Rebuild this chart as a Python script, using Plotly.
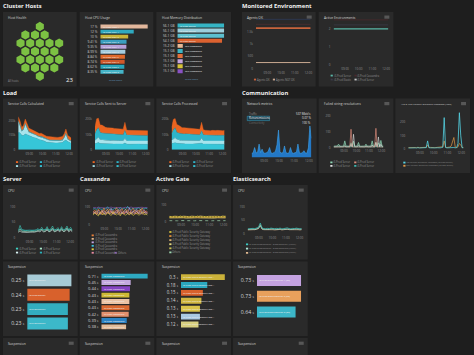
import plotly.graph_objects as go
import pandas as pd

W, H = 474, 355
BG = "#1e1e1e"
PANEL = "#2a2a2a"
TITLE_C = "#d4d4d4"
DIM = "#8f8f8f"
FONT = "Open Sans, Roboto, DejaVu Sans, sans-serif"

# ======================= DATA =======================
# Host health honeycomb (hosts per row, starting half-column of each row)
host_rows = [1, 3, 5, 4, 5, 4, 1]
host_row_start = [0, -3, -4, -3, -4, -3, 0]

cpu_values = [17, 12, 10, 9.41, 9.35, 8.99, 8.84, 8.74, 8.62, 8.35]
cpu_hosts = ["i3-Prod Cass 4", "i3-Prod Prox 1", "i3-Prod Prox 2", "i3-Prod Prox 3", "i3-Prod Prox 4",
             "i3-Prod Prox 5", "i3-Prod Prox 6", "i3-Prod Prox 7", "i3-Prod Cass 6", "i3-Prod Cass 3"]
cpu_colors = ["#e2b79c", "#2fa9bf", "#c9b437", "#3a9fc0", "#b7a2db", "#a5cde0", "#e06a2c", "#d2582a", "#2aa5ba", "#45b5c8"]

mem_values = [56.1, 56.1, 56.1, 54.1, 15.2, 15.1, 15.1, 15.1, 15.1, 15.1]
mem_hosts = ["i3-Prod Server", "i3-Prod Server", "i3-Prod Server", "i3-Prod Server", "i3xF Cassandra",
             "i3xF Cassandra", "i3xF Cassandra", "i3xF Cassandra", "i3xF Cassandra", "i3xF Cassandra"]
mem_colors = ["#35b5c5", "#9ccfdc", "#5cc0cf", "#dc6230", "#e8b894", "#3cb4c4", "#e0703c", "#c7a5e0", "#d8c23a", "#8a52c4"]

T0, T1 = "2024-01-01 08:10", "2024-01-01 12:10"
t21 = pd.date_range(T0, periods=21, freq="12min")
t31 = pd.date_range(T0, periods=31, freq="8min")
t41 = pd.date_range(T0, periods=41, freq="6min")

agents_total = [1992, 1992, 1993, 1992, 1992, 1991, 1992, 1992, 1993, 1992, 1992, 1992, 1991, 1992, 1992, 1993, 1992, 1992, 1992, 1991, 1992]
agents_licensed = [1790, 1790, 1789, 1790, 1791, 1790, 1790, 1789, 1790, 1790, 1791, 1790, 1790, 1790, 1789, 1790, 1790, 1791, 1790, 1790, 1790]
agents_ok = [1635, 1634, 1635, 1636, 1635, 1634, 1635, 1635, 1636, 1635, 1634, 1635, 1635, 1636, 1635, 1634, 1635, 1635, 1636, 1635, 1635]
agents_not_ok = [245, 246, 245, 244, 245, 246, 245, 245, 244, 245, 246, 245, 245, 244, 245, 246, 245, 245, 244, 245, 245]
agents_names = ["Agents OK", "Agents NOT OK"]
agents_colors = ["#c8643c", "#c8a890"]

env_total = [2.5, 2.5, 2.5, 2.5, 2.5, 2.5, 2.5, 2.5, 2.5, 2.5, 2.5, 2.5, 2.5, 2.5, 2.5, 2.5, 2.5, 2.5, 2.5, 2.5, 2.5]
env_other = [2.22, 2.22, 2.22, 2.22, 2.22, 2.22, 2.22, 2.22, 2.22, 2.22, 2.22, 2.22, 2.22, 2.22, 2.22, 2.22, 2.22, 2.22, 2.22, 2.22, 2.22]
env_active = [2, 2, 2, 2, 2, 2, 2, 2, 2, 2, 2, 2, 2, 2, 2, 2, 2, 2, 2, 2, 2]
env_names = ["i3-Prod Server", "i3-Prod Cassandra", "i3-Prod Elastic", "i3-Prod Server"]
env_colors = ["#5ab8a8", "#4a2a2c", "#3a3a48", "#c8c8c8"]

# Load – stacked service calls (thousands), bottom -> top
load1_a = [123, 116, 100, 99, 110, 105, 96, 92, 90, 84, 82, 73, 70, 68, 65, 60, 53, 53, 49, 48, 49, 48, 47, 47, 48, 50, 61, 68, 57, 49, 45]
load1_b = [70, 50, 26, 40, 66, 40, 25, 24, 22, 22, 21, 20, 18, 20, 18, 16, 15, 15, 15, 14, 14, 15, 14, 14, 15, 15, 20, 40, 16, 14, 13]
load1_c = [6, 6, 5, 5, 6, 5, 5, 5, 4, 5, 4, 5, 4, 5, 4, 4, 5, 4, 4, 5, 4, 4, 5, 4, 4, 5, 5, 6, 5, 4, 4]
load1_d = [30, 28, 24, 26, 30, 25, 24, 23, 22, 22, 21, 22, 20, 22, 21, 20, 21, 20, 22, 21, 20, 21, 20, 22, 21, 22, 24, 30, 22, 21, 20]

load2_a = [40, 44, 48, 42, 41, 40, 40, 39, 40, 39, 39, 38, 39, 38, 38, 39, 38, 45, 38, 37, 38, 37, 38, 37, 37, 38, 37, 37, 38, 37, 37]
load2_b = [22, 30, 34, 25, 24, 23, 22, 22, 22, 21, 22, 21, 21, 22, 21, 21, 21, 30, 21, 21, 20, 21, 21, 20, 21, 21, 20, 21, 21, 20, 21]
load2_c = [42, 60, 64, 48, 46, 47, 44, 44, 43, 43, 42, 42, 41, 41, 41, 40, 40, 52, 39, 39, 39, 38, 39, 38, 38, 38, 38, 37, 38, 38, 37]
load2_d = [44, 70, 62, 48, 52, 45, 42, 41, 41, 40, 40, 40, 39, 38, 38, 37, 37, 54, 32, 31, 31, 31, 31, 30, 31, 31, 31, 31, 31, 31, 30]

load3_a = [41, 45, 47, 43, 41, 40, 39, 40, 39, 40, 39, 38, 38, 39, 38, 38, 39, 44, 38, 38, 37, 38, 37, 38, 37, 37, 38, 37, 37, 38, 37]
load3_b = [21, 29, 33, 26, 23, 22, 22, 21, 22, 22, 21, 21, 22, 21, 21, 21, 20, 31, 21, 20, 21, 21, 20, 21, 20, 21, 21, 20, 21, 20, 21]
load3_c = [43, 58, 66, 47, 47, 45, 44, 43, 44, 42, 42, 41, 42, 40, 41, 40, 40, 50, 40, 39, 38, 39, 38, 38, 39, 38, 37, 38, 38, 37, 38]
load3_d = [42, 68, 60, 50, 50, 46, 41, 42, 40, 41, 39, 40, 38, 39, 37, 38, 36, 56, 33, 32, 31, 32, 31, 31, 30, 31, 32, 31, 30, 31, 31]

load_names = ["i3-Prod Server", "i3-Prod Server", "i3-Prod Server", "i3-Prod Server"]
load_colors = ["#36c6d8", "#a8e4ec", "#2fb4c9", "#ea6420"]

net_labels = ["Traffic", "Retransmissions", "Connectivity"]
net_values = ["537 Mbit/s", "0.07 %", "100 %"]
net_series = [13, 14, 31, 14, 16, 42, 15, 26, 14, 13, 15, 18, 31, 14, 13, 15, 20, 40, 86, 16, 14,
              15, 36, 15, 13, 14, 31, 15, 13, 14, 16, 42, 14, 13, 15, 21, 14, 13, 30, 99, 60]

fail_a = [8, 9, 8, 10, 21, 9, 8, 10, 9, 42, 8, 9, 10, 8, 30, 9, 40, 8, 9, 10, 32, 9, 8, 10, 9, 8, 21, 9, 10, 8, 9, 42, 9, 8, 35, 10, 30, 9, 45, 8, 9]
fail_b = [1, 2, 1, 1, 2, 1, 2, 1, 1, 3, 1, 2, 1, 1, 116, 2, 1, 1, 2, 1, 3, 1, 1, 2, 1, 1, 2, 1, 1, 2, 1, 3, 1, 2, 122, 1, 2, 1, 3, 1, 1]
fail_c = [3, 4, 3, 5, 6, 3, 4, 3, 4, 10, 3, 4, 3, 4, 20, 3, 84, 4, 3, 4, 12, 3, 4, 3, 4, 3, 8, 4, 3, 4, 3, 15, 4, 3, 30, 4, 67, 3, 20, 4, 3]
fail_d = [2, 3, 2, 2, 4, 2, 3, 2, 2, 5, 2, 3, 2, 2, 6, 3, 4, 2, 2, 3, 4, 2, 3, 2, 2, 3, 4, 2, 2, 3, 2, 4, 3, 2, 7, 2, 5, 3, 4, 2, 2]
fail_names = ["i3-Prod Server", "i3-Prod Server", "i3-Prod Server", "i3-Prod Server"]
fail_colors = ["#8fd6b4", "#d98a7a", "#e6e6e6", "#3fb8b0"]

lat_avg = [6, 7, 6, 8, 6, 7, 6, 9, 6, 7, 6, 8, 7, 9, 60, 8, 7, 6, 8, 6, 7, 8, 6, 7, 9, 12, 236, 10, 7, 8, 6, 7, 9, 10, 7, 9, 40, 273, 98, 8, 7]
lat_max = [9, 10, 9, 11, 9, 10, 9, 12, 9, 10, 9, 11, 10, 12, 30, 10, 11, 9, 10, 9, 10, 11, 9, 10, 12, 16, 60, 13, 10, 11, 14, 20, 50, 86, 12, 10, 15, 40, 30, 10, 10]
lat_names = ["Avg Latency Outpatch Messages (i3-Prod Server)", "Max Latency Outpatch Messages (i3-Prod Server)"]
lat_colors = ["#56d4e4", "#e09a48"]

srv_a = [22, 40, 26, 24, 23, 24, 22, 23, 24, 23, 25, 30, 24, 34, 25, 26, 36, 24, 28, 38, 25, 27, 33, 24, 36, 26, 28, 38, 25, 34, 24]
srv_b = [19, 28, 21, 20, 19, 20, 19, 20, 19, 20, 21, 24, 22, 28, 21, 22, 30, 20, 24, 31, 21, 23, 28, 22, 30, 21, 23, 32, 22, 28, 21]
srv_c = [17, 22, 18, 17, 18, 17, 18, 17, 18, 18, 19, 21, 19, 24, 19, 20, 25, 19, 21, 26, 19, 21, 24, 19, 26, 20, 21, 27, 19, 24, 19]
srv_d = [24, 30, 25, 24, 25, 24, 25, 24, 25, 24, 25, 26, 25, 27, 25, 26, 28, 25, 26, 28, 25, 26, 27, 25, 28, 25, 26, 29, 25, 27, 25]
srv_names = ["i3-Prod Server", "i3-Prod Server", "i3-Prod Server", "i3-Prod Server"]
srv_colors = ["#3fd0c0", "#a8e8c8", "#d8f0f0", "#2ab0b8"]

cas_1 = [70, 85, 62, 90, 75, 60, 95, 72, 66, 88, 70, 64, 80, 98, 68, 74, 92, 63, 71, 86, 66, 78, 94, 70, 62, 84, 73, 96, 67, 80, 72]
cas_2 = [62, 70, 80, 58, 66, 84, 60, 74, 90, 62, 68, 82, 58, 72, 86, 60, 70, 78, 88, 62, 74, 60, 70, 85, 76, 62, 90, 66, 74, 60, 68]
cas_3 = [78, 66, 72, 84, 60, 70, 82, 64, 76, 70, 92, 60, 74, 66, 80, 88, 62, 76, 68, 72, 96, 64, 80, 66, 88, 70, 64, 78, 86, 66, 74]
cas_4 = [88, 92, 86, 95, 90, 87, 93, 89, 102, 88, 91, 86, 94, 90, 88, 96, 89, 92, 87, 104, 90, 88, 93, 89, 91, 95, 88, 92, 90, 94, 89]
cas_5 = [55, 68, 60, 52, 72, 58, 64, 56, 70, 60, 54, 74, 62, 57, 66, 52, 68, 60, 56, 64, 58, 70, 54, 62, 66, 56, 60, 72, 58, 62, 56]
cas_6 = [66, 74, 58, 70, 62, 80, 68, 60, 72, 64, 78, 62, 70, 84, 60, 68, 74, 62, 80, 66, 60, 74, 68, 62, 78, 64, 72, 60, 70, 76, 64]
cas_7 = [96, 98, 95, 100, 97, 96, 99, 97, 95, 98, 100, 96, 97, 99, 96, 98, 95, 97, 99, 96, 98, 100, 96, 97, 95, 98, 96, 99, 97, 96, 98]
cas_names = ["i3-Prod Cassandra", "i3-Prod Cassandra", "i3-Prod Cassandra", "i3-Prod Cassandra",
             "i3-Prod Cassandra", "i3-Prod Cassandra", "Others"]
cas_colors = ["#e8803a", "#e6b88a", "#c4a4e4", "#3ec4dc", "#e0cc40", "#e88aa0", "#8a5cc4"]

ag_1 = [28, 30, 27, 29, 31, 28, 27, 30, 29, 28, 31, 27, 29, 30, 28, 27, 30, 29, 28, 31, 28]
ag_2 = [24, 26, 25, 23, 27, 24, 26, 25, 23, 26, 24, 25, 27, 24, 23, 26, 25, 24, 26, 25, 24]
ag_3 = [31, 29, 32, 30, 28, 32, 30, 29, 32, 30, 29, 33, 30, 28, 31, 32, 29, 31, 30, 29, 32]
ag_4 = [21, 22, 20, 23, 21, 22, 20, 21, 23, 20, 22, 21, 20, 23, 22, 21, 20, 22, 21, 23, 21]
ag_5 = [26, 27, 28, 26, 25, 27, 28, 26, 27, 25, 27, 28, 26, 27, 25, 28, 27, 26, 28, 27, 26]
ag_6 = [4, 3, 4, 3, 5, 4, 3, 4, 4, 3, 5, 4, 3, 4, 4, 3, 4, 5, 3, 4, 4]
ag_names = ["i3-Prod Public Security Gateway", "i3-Prod Public Security Gateway", "i3-Prod Public Security Gateway",
            "i3-Prod Public Security Gateway", "i3-Prod Public Security Gateway", "Others"]
ag_colors = ["#d6c23c", "#e0903a", "#d8b070", "#e8dc80", "#c8c050", "#a0d8b0"]

es_1 = [18, 19, 18, 20, 19, 21, 24, 40, 22, 19, 18, 20, 19, 21, 19, 18, 20, 19, 21, 18, 19, 20, 22, 19, 18, 20, 19, 21, 19, 18, 19]
es_2 = [16, 17, 16, 17, 16, 18, 20, 30, 18, 17, 16, 17, 16, 18, 17, 16, 17, 16, 18, 16, 17, 17, 19, 17, 16, 17, 16, 18, 17, 16, 17]
es_3 = [14, 15, 14, 15, 15, 16, 19, 34, 17, 15, 14, 15, 15, 16, 15, 14, 15, 15, 16, 14, 15, 15, 17, 15, 14, 15, 15, 16, 15, 14, 15]
es_names = ["i3-Prod Elasticsearch - Elasticsearch1 (Linux)", "i3-Prod Elasticsearch - Elasticsearch2 (Linux)",
            "i3-Prod Elasticsearch - Elasticsearch3 (Linux)"]
es_colors = ["#3cc8c0", "#b0e8d8", "#e0b890"]

susp_srv_values = [0.25, 0.24, 0.23, 0.23]
susp_srv_names = ["i3-Prod Server", "i3-Prod Server", "i3-Prod Server", "i3-Prod Server"]
susp_srv_colors = ["#a7cbd6", "#d8612c", "#33aebf", "#3cb8c9"]

susp_cas_values = [0.71, 0.45, 0.44, 0.43, 0.43, 0.43, 0.42, 0.39, 0.38]
susp_cas_names = ["i3-Prod Cassandra"] * 9
susp_cas_colors = ["#2eaac2", "#c3a9df", "#8544c4", "#cdb935", "#ebc3a4", "#da6a32", "#e2906e", "#2b82c4", "#e2bc9a"]

susp_ag_values = [0.3, 0.18, 0.15, 0.14, 0.13, 0.13, 0.12]
susp_ag_names = ["i3-Prod Public Security Gat..."] * 7
susp_ag_colors = ["#cbb23a", "#2aa8c0", "#d8612c", "#cfb640", "#d9c44a", "#a9c9e2", "#d8d080"]

susp_es_values = [0.73, 0.73, 0.64]
susp_es_names = ["i3-Prod Elasticsearch 1 (ES)", "i3-Prod Elasticsearch 2 (ES)", "i3-Prod Elasticsearch 3 (ES)"]
susp_es_colors = ["#c4a2e0", "#e8a05c", "#3cb6c8"]

# ======================= FIGURE =======================
fig = go.Figure()
shapes, annos, axes = [], [], {}
counter = [0]
TF = dict(size=3, color=DIM, family=FONT)


def add_axes(x0, x1, y0, y1, xa, ya):
    counter[0] += 1
    s = "" if counter[0] == 1 else str(counter[0])
    axes["xaxis" + s] = dict(domain=[x0 / W, x1 / W], anchor="y" + s, fixedrange=True, **xa)
    axes["yaxis" + s] = dict(domain=[1 - y1 / H, 1 - y0 / H], anchor="x" + s, fixedrange=True, **ya)
    return "x" + s, "y" + s


def text(x, y, s, size=3.3, color=TITLE_C, anchor="left", yanchor="middle"):
    annos.append(dict(xref="paper", yref="paper", x=x / W, y=1 - y / H, text=s, showarrow=False,
                      xanchor=anchor, yanchor=yanchor, borderpad=0, borderwidth=0,
                      font=dict(size=size, color=color, family=FONT)))


def rect(x0, y0, x1, y1, fill, line=None, lw=0, layer="below"):
    shapes.append(dict(type="rect", xref="paper", yref="paper", x0=x0 / W, x1=x1 / W,
                       y0=1 - y1 / H, y1=1 - y0 / H, fillcolor=fill,
                       line=dict(width=lw, color=line or fill), layer=layer))


def panel(x0, y0, x1, y1, title, button=False, tsize=3.3):
    rect(x0, y0, x1, y1, PANEL)
    text(x0 + 5.5, y0 + 5.5, title, size=tsize)
    if button:
        rect(x1 - 9, y0 + 3.6, x1 - 4, y0 + 6.8, "#575757")


def legend(names, colors, x0, y0, col_w, row_h, ncols, rows=None, cols=None, size=2.6):
    for i, (n, c) in enumerate(zip(names, colors)):
        r, k = divmod(i, ncols)
        if rows is not None:
            r, k = rows[i], cols[i]
        x = x0 + k * col_w
        y = y0 + r * row_h
        rect(x, y - 0.9, x + 2.2, y + 0.9, c, layer="above")
        text(x + 3.0, y, n, size=size, color=DIM)


def time_x():
    return dict(type="date", range=[T0, T1], tickformat="%H:%M", tick0="2024-01-01 09:00", dtick=3600000,
                tickfont=TF, showgrid=False, zeroline=False, showline=False, ticks="", ticklabelstandoff=1)


def val_y(top, vals, texts):
    return dict(range=[0, top], tickvals=vals, ticktext=texts, tickfont=TF, showgrid=False,
                zeroline=False, showline=False, ticks="", ticklabelstandoff=2)


def line(ax, x, y, color, width=0.7, **kw):
    fig.add_trace(go.Scatter(x=x, y=y, mode=kw.pop("mode", "lines"), line=dict(color=color, width=width),
                             xaxis=ax[0], yaxis=ax[1], hoverinfo="skip", **kw))


def hbar(ax, values, colors, width):
    fig.add_trace(go.Bar(x=values, y=list(range(len(values))), orientation="h",
                         marker=dict(color=colors, line=dict(width=0)), width=width,
                         xaxis=ax[0], yaxis=ax[1], hoverinfo="skip"))


def bar_texts(ax, values, names, x_start, size, color="#f2f2f2", outside_below=None):
    for i, (v, n) in enumerate(zip(values, names)):
        xx = v if (outside_below is not None and v < outside_below) else x_start
        annos.append(dict(xref=ax[0], yref=ax[1], x=xx, y=i, text=n, showarrow=False, xanchor="left",
                          yanchor="middle", xshift=1.3, borderpad=0,
                          font=dict(size=size, color=color, family=FONT)))


def cat_y(labels, size, color="#cfcfcf"):
    n = len(labels)
    return dict(range=[n - 0.5, -0.5], tickvals=list(range(n)), ticktext=labels,
                tickfont=dict(size=size, color=color, family=FONT), ticks="", showgrid=False,
                zeroline=False, showline=False, ticklabelstandoff=2)


# ---- section headers
for s, x, y in [("Cluster Hosts", 3.3, 6.3), ("Monitored Environment", 243, 6.3), ("Load", 3.3, 93.5),
                ("Communication", 243, 93.5), ("Server", 3.3, 180), ("Cassandra", 80.5, 180),
                ("Active Gate", 157, 180), ("Elasticsearch", 234, 180)]:
    text(x, y, "<b>" + s + "</b>", size=5.8, color="#f2f2f2")

# ---- Host health
panel(3, 12, 77, 87, "Host Health")
ax = add_axes(3, 77, 12, 87, dict(visible=False, range=[-7.63, 7.63]), dict(visible=False, range=[7.24, -1.76]))
hx, hy = [], []
for r, (cnt, st) in enumerate(zip(host_rows, host_row_start)):
    for i in range(cnt):
        hx.append(st + 2 * i)
        hy.append(r)
fig.add_trace(go.Scatter(x=hx, y=hy, mode="markers", xaxis=ax[0], yaxis=ax[1], hoverinfo="skip",
                         marker=dict(symbol="hexagon", size=9.3, color="#7cc143", line=dict(width=0))))
text(8.5, 81.5, "All hosts", size=2.7, color=DIM)
text(73, 80.5, str(sum(host_rows)), size=6, color="#f2f2f2", anchor="right")

# ---- Host CPU usage
panel(80, 12, 154, 87, "Host CPU Usage")
ax = add_axes(100.7, 150, 24.2, 74.8, dict(visible=False, range=[0, 17.6]),
              cat_y([f"{v} %" for v in cpu_values], 3.2))
hbar(ax, cpu_values, cpu_colors, 0.78)
bar_texts(ax, cpu_values, cpu_hosts, 0, 2.4)
text(116, 80, "Show more", size=2.5, color="#5f8fb5", anchor="center")

# ---- Host memory
panel(157, 12, 232, 87, "Host Memory Distribution")
ax = add_axes(178.3, 227, 23.1, 74.3, dict(visible=False, range=[10, 58.07]),
              cat_y([f"{v} GB" for v in mem_values], 3.2))
hbar(ax, mem_values, mem_colors, 0.78)
bar_texts(ax, mem_values, mem_hosts, 10, 2.4, outside_below=30)
text(193, 79.5, "Show more", size=2.5, color="#5f8fb5", anchor="center")

# ---- Agents OK
panel(243, 12, 317, 87, "Agents OK", True)
ax = add_axes(257, 312, 18, 69, time_x(), val_y(2050, [0, 500, 1000, 1500], ["0", "500", "1k", "1.5k"]))
line(ax, t21, agents_total, "#2c3a58", 0.8)
line(ax, t21, agents_licensed, "#4a2e30", 0.8)
line(ax, t21, agents_ok, agents_colors[0], 1.6)
line(ax, t21, agents_not_ok, agents_colors[1], 1.0)
legend(agents_names, agents_colors, 255, 80, 19, 4, 2)

# ---- Active environments
panel(320, 12, 395, 87, "Active Environments", True)
ax = add_axes(335, 390, 18.2, 65, time_x(), val_y(2.6, [0, 1, 2], ["0", "1", "2"]))
line(ax, t21, env_total, env_colors[1], 0.8)
line(ax, t21, env_other, env_colors[2], 0.8)
line(ax, t21, env_active, env_colors[0], 1.4)
legend(env_names, env_colors, 332, 76, 24, 4, 2)

# ---- Load
load_sets = [("Service Calls Calculated", 3, [load1_a, load1_b, load1_c, load1_d], 240, 115.7),
             ("Service Calls Sent to Server", 80, [load2_a, load2_b, load2_c, load2_d], 230, 115.5),
             ("Service Calls Processed", 157, [load3_a, load3_b, load3_c, load3_d], 230, 115.5)]
for k, (title, px0, series, top, ytop) in enumerate(load_sets):
    panel(px0, 99, px0 + 75, 174, title, True)
    ax = add_axes(px0 + 15.3, px0 + 68.5, ytop, 150.7, time_x(), val_y(top, [0, 100, 200], ["0", "100k", "200k"]))
    for s, c in zip(series, load_colors):
        fig.add_trace(go.Scatter(x=t31, y=s, mode="lines", stackgroup=f"load{k}", fillcolor=c,
                                 line=dict(color=c, width=0.4), xaxis=ax[0], yaxis=ax[1], hoverinfo="skip"))
    legend(load_names[::-1], load_colors[::-1], px0 + 13, 163, 24, 4, 2)

# ---- Network metrics
panel(243, 99, 318, 174, "Network metrics")
rect(248.3, 116.9, 270.7, 121.3, "#1b3e4d", "#3aa6c8", 0.5, layer="above")
for i, (lab, val) in enumerate(zip(net_labels, net_values)):
    y = 114.2 + i * 4.8
    text(250, y, lab, size=2.7, color="#f0f0f0" if i == 1 else ("#8a8a8a" if i == 0 else "#6f6f6f"))
    text(312, y, val, size=2.9, color="#e0e0e0", anchor="right")
ax = add_axes(252.7, 312.7, 126, 158.3, time_x(), dict(visible=False, range=[0, 101]))
fig.add_trace(go.Scatter(x=t41, y=net_series, mode="lines", fill="tozeroy", fillcolor="#2378c6",
                         line=dict(color="#3ea6f0", width=0.6), xaxis=ax[0], yaxis=ax[1], hoverinfo="skip"))

# ---- Failed string resolutions
panel(320, 99, 395, 174, "Failed string resolutions", True)
ax = add_axes(335, 385, 112, 148.3, time_x(), val_y(230, [0, 100, 200], ["0", "100", "200"]))
line(ax, t41, fail_a, fail_colors[0], 0.7, fill="tozeroy", fillcolor="rgba(143,214,180,0.35)")
line(ax, t41, fail_d, fail_colors[3], 0.6)
line(ax, t41, fail_c, fail_colors[2], 0.6)
line(ax, t41, fail_b, fail_colors[1], 0.7)
legend(fail_names, fail_colors, 331.7, 163.3, 24, 3.5, 2)

# ---- Latency
panel(397, 99, 472, 174, "Avg &amp; Max Latency Outpatch Messages (time)", True, tsize=2.4)
ax = add_axes(410, 465.5, 112, 149.7, time_x(), val_y(283, [0, 100, 200], ["0", "100", "200"]))
line(ax, t41, lat_max, lat_colors[1], 0.7)
line(ax, t41, lat_avg, lat_colors[0], 0.8)
legend(lat_names, lat_colors, 405, 163.5, 0, 3.2, 1, size=2.1)

# ---- Server CPU
panel(3, 186, 78, 261, "CPU", True)
ax = add_axes(18.3, 72.7, 205.2, 239, time_x(), val_y(110, [0, 50, 100], ["0", "50", "100"]))
for s, c in zip([srv_d, srv_c, srv_b, srv_a], [srv_colors[3], srv_colors[2], srv_colors[1], srv_colors[0]]):
    line(ax, t31, s, c, 0.6)
legend(srv_names, srv_colors, 16, 250, 24, 4, 2)

# ---- Cassandra CPU
panel(80, 186, 155, 261, "CPU", True)
ax = add_axes(93.3, 148.3, 205.5, 226.7, time_x(), val_y(115, [0, 100], ["0", "100"]))
for s, c in zip([cas_7, cas_4, cas_3, cas_1, cas_6, cas_2, cas_5],
                [cas_colors[6], cas_colors[3], cas_colors[2], cas_colors[0], cas_colors[5], cas_colors[1], cas_colors[4]]):
    line(ax, t31, s, c, 0.6)
legend(cas_names, cas_colors, 92, 236.7, 23, 3.5, 1, rows=[0, 1, 2, 3, 4, 5, 5], cols=[0, 0, 0, 0, 0, 0, 1])

# ---- Active Gate CPU
panel(157, 186, 232, 261, "CPU", True)
ax = add_axes(170, 226.7, 204.3, 222.7, time_x(), val_y(110, [0, 100], ["0", "100"]))
line(ax, t21, ag_6, ag_colors[5], 0.8)
fig.data[-1].line.dash = "dot"
for s, c in zip([ag_4, ag_2, ag_5, ag_3], [ag_colors[3], ag_colors[1], ag_colors[4], ag_colors[2]]):
    line(ax, t21, s, c, 0.7)
line(ax, t21, ag_1, ag_colors[0], 0.8, mode="lines+markers", marker=dict(size=1.6, color="#8a7a2a"))
legend(ag_names, ag_colors, 170, 233.3, 0, 4.1, 1)

# ---- Elasticsearch CPU
panel(234, 186, 309, 261, "CPU", True)
ax = add_axes(248.7, 303, 205.6, 235, time_x(), val_y(110, [0, 50, 100], ["0", "50", "100"]))
for s, c in zip([es_3, es_2, es_1], [es_colors[2], es_colors[1], es_colors[0]]):
    line(ax, t31, s, c, 0.7)
legend(es_names, es_colors, 247, 245.7, 0, 4.3, 1, size=2.3)


# ---- Suspension row
def s_labels(values, small):
    return [f"{v} <span style='font-size:{small}px'>s</span>" for v in values]


panel(3, 263, 78, 338, "Suspension")
ax = add_axes(27.3, 72.6, 274.8, 332.5, dict(visible=False, range=[0, 0.255]),
              cat_y(s_labels(susp_srv_values, 3), 5.2, "#d8d8d8"))
hbar(ax, susp_srv_values, susp_srv_colors, 0.83)
bar_texts(ax, susp_srv_values, susp_srv_names, 0, 2.5)

panel(80, 263, 155, 338, "Suspension")
ax = add_axes(101.7, 151, 274.5, 331.9, dict(visible=False, range=[0, 0.7515]),
              cat_y(s_labels(susp_cas_values, 2.6), 4.0, "#d8d8d8"))
hbar(ax, susp_cas_values, susp_cas_colors, 0.78)
bar_texts(ax, susp_cas_values, susp_cas_names, 0, 2.4)

panel(157, 263, 232, 338, "Suspension")
ax = add_axes(181.7, 230, 274.7, 330.3, dict(visible=False, range=[0, 0.329]),
              cat_y(s_labels(susp_ag_values, 2.6), 4.4, "#d8d8d8"))
hbar(ax, susp_ag_values, susp_ag_colors, 0.75)
bar_texts(ax, susp_ag_values, susp_ag_names, 0, 2.4)

panel(234, 263, 309, 338, "Suspension")
ax = add_axes(258, 306, 274.1, 321.6, dict(visible=False, range=[0, 0.791]),
              cat_y(s_labels(susp_es_values, 3), 5.2, "#d8d8d8"))
hbar(ax, susp_es_values, susp_es_colors, 0.7)
bar_texts(ax, susp_es_values, susp_es_names, 0, 2.5)

# ---- partially visible bottom row
for px0 in [3, 80, 157, 234]:
    panel(px0, 340, px0 + 75, 362, "Suspension", True)

fig.update_layout(width=W, height=H, margin=dict(l=0, r=0, t=0, b=0), paper_bgcolor=BG,
                  plot_bgcolor="rgba(0,0,0,0)", showlegend=False, hovermode=False,
                  font=dict(family=FONT), shapes=shapes, annotations=annos, **axes)
fig.write_html("out.html", config={"displayModeBar": False, "staticPlot": True},
               post_script="document.body.style.margin='0';document.body.style.background='#1e1e1e';")
